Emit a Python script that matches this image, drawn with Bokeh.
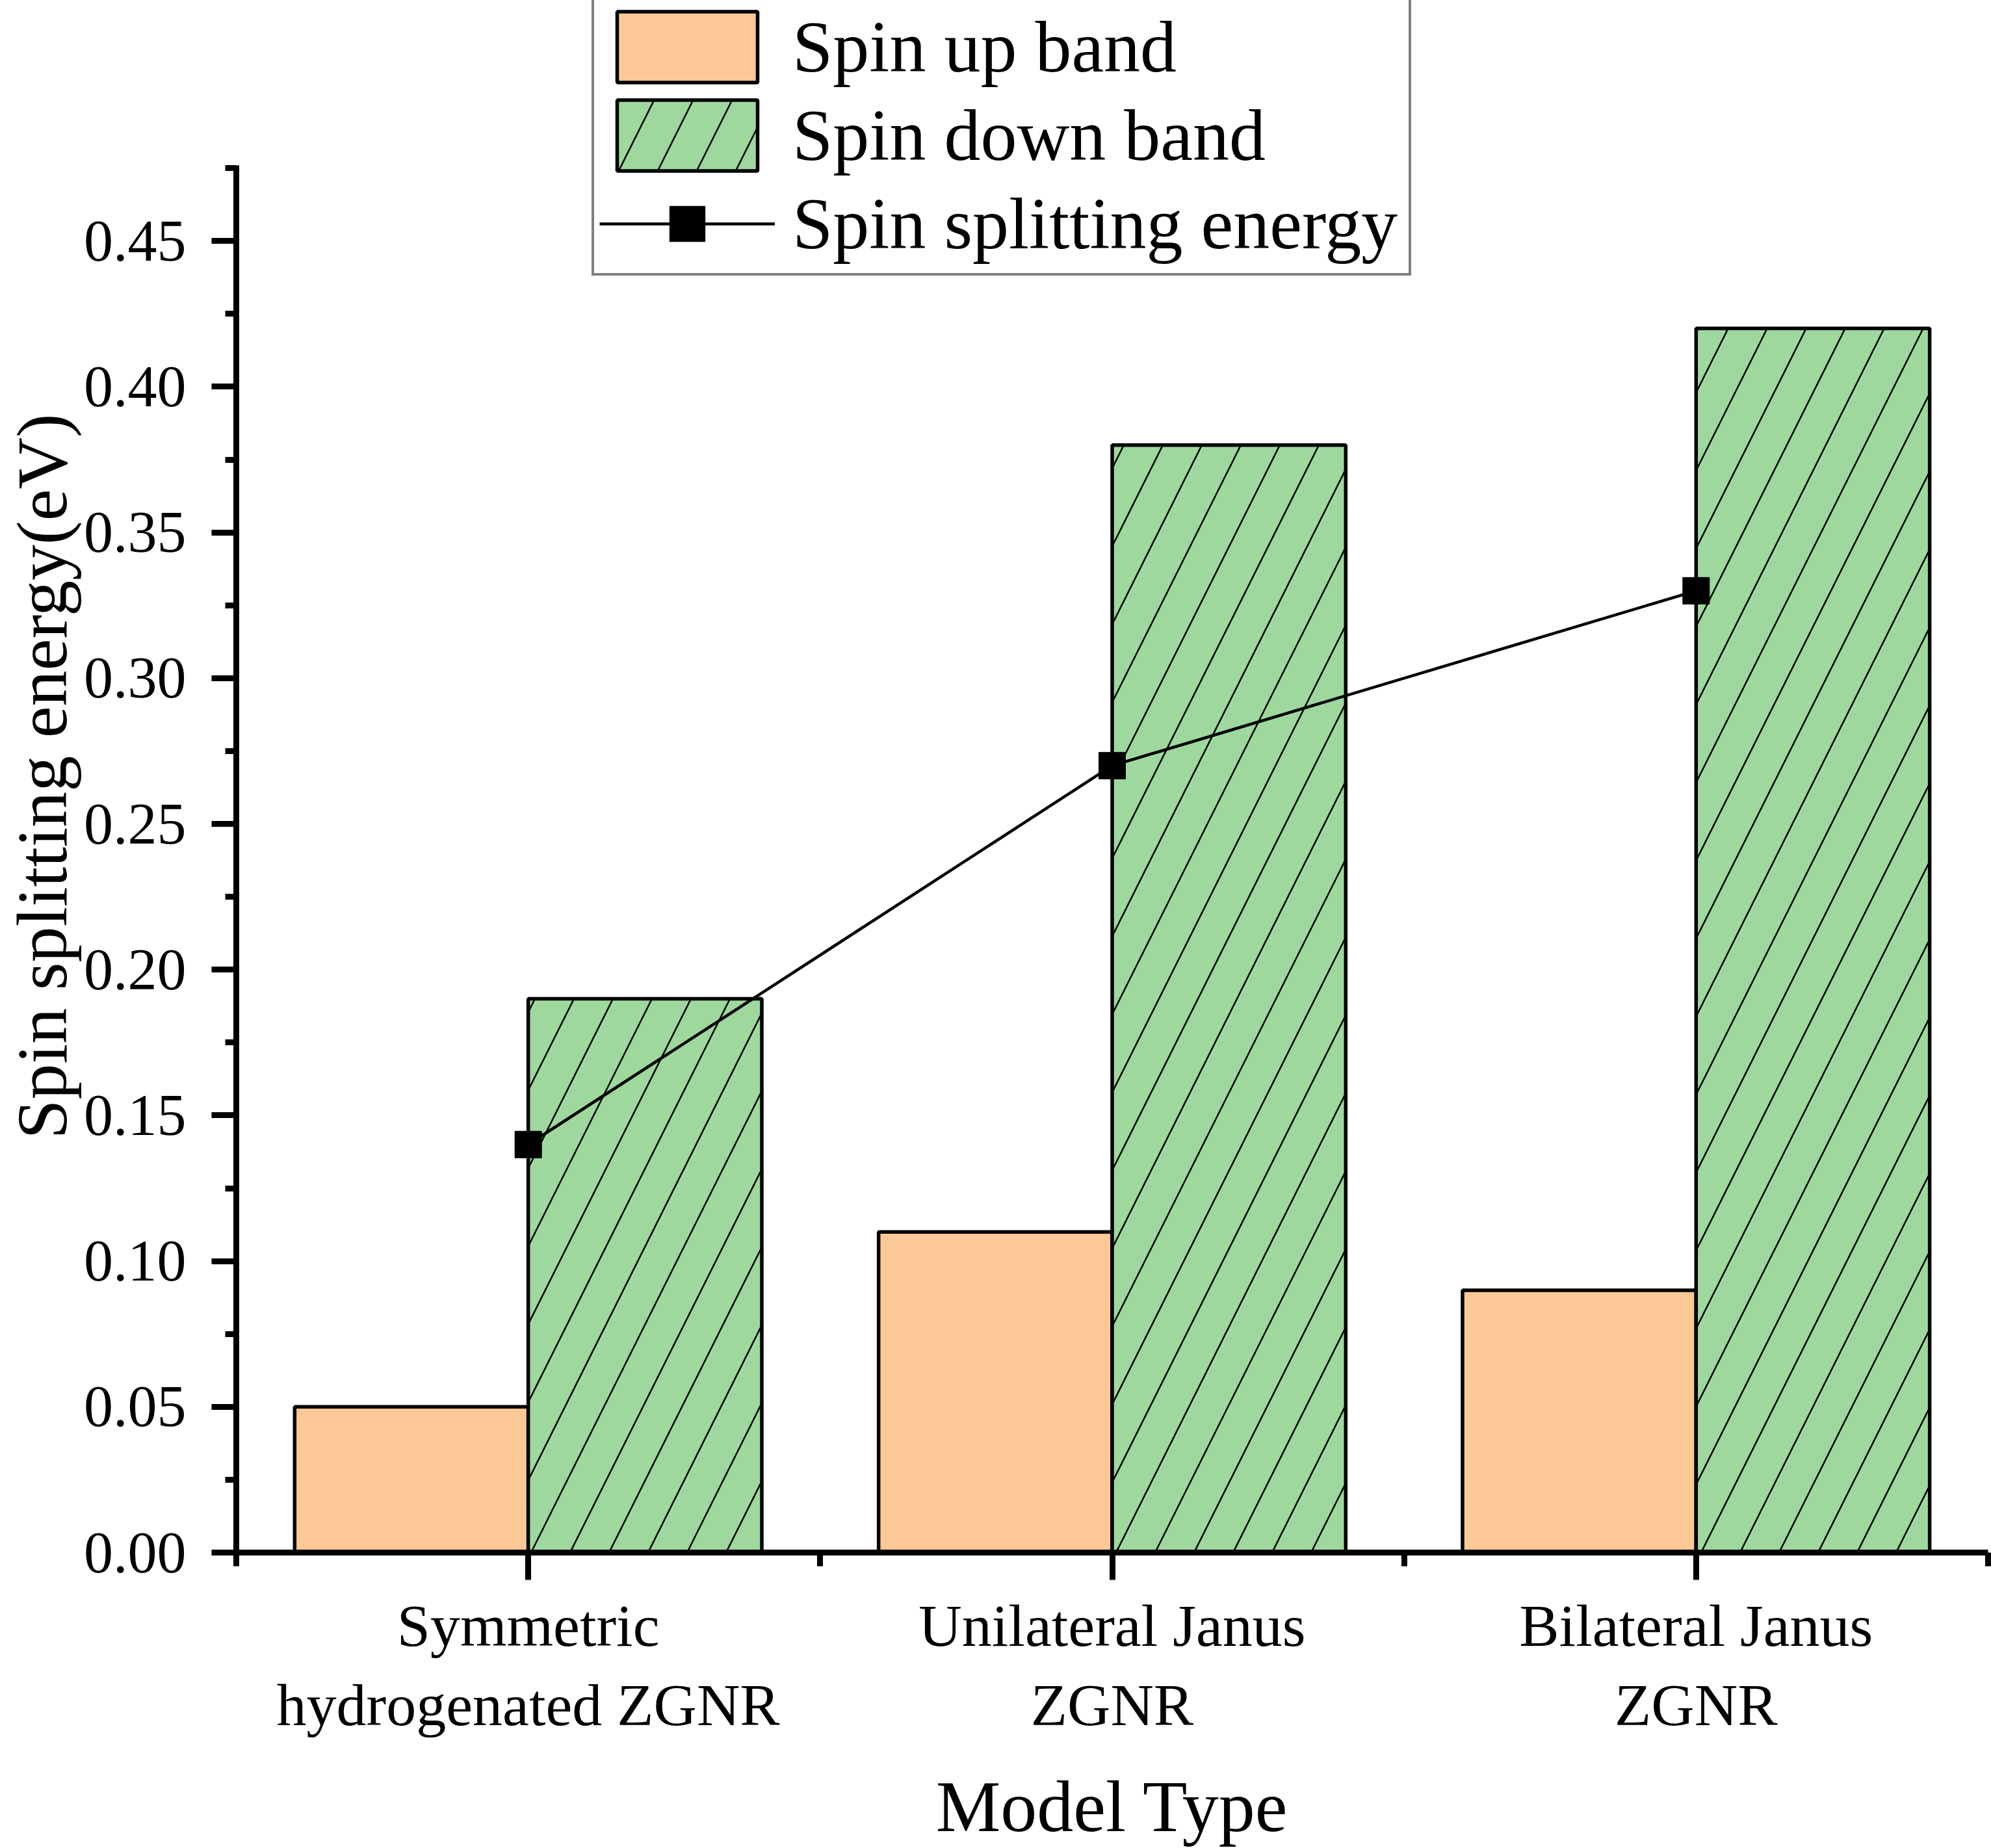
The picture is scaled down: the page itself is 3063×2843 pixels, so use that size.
from bokeh.plotting import figure
from bokeh.models import (ColumnDataSource, FixedTicker, Range1d, Legend, LegendItem,
                          NumeralTickFormatter)
from bokeh.transform import dodge
from bokeh.embed import file_html
from bokeh.resources import INLINE

# ---------------- data ----------------
categories = ["Symmetric\nhydrogenated ZGNR", "Unilateral Janus\nZGNR", "Bilateral Janus\nZGNR"]
spin_up = [0.05, 0.11, 0.09]
spin_down = [0.19, 0.38, 0.42]
splitting = [0.14, 0.27, 0.33]
y_ticks = [0.00, 0.05, 0.10, 0.15, 0.20, 0.25, 0.30, 0.35, 0.40, 0.45]
y_minor = [0.025, 0.075, 0.125, 0.175, 0.225, 0.275, 0.325, 0.375, 0.425, 0.475]
y_axis_max = 0.476

FONT = "Liberation Serif"
PEACH = "#FBC896"
GREEN = "#9ED89D"
W, H = 3063, 2843
L, R, B = 360, 5, 452
AXIS_TOP_PX = 254            # where the drawn y axis ends (px from top)
FH = H - B                   # frame spans from canvas top to the x axis
y_end = y_axis_max * FH / (FH - AXIS_TOP_PX)

xs = list(range(1, len(categories) + 1))
x_minor = [v - 0.5 for v in xs] + [xs[-1] + 0.5]
src = ColumnDataSource(dict(x=xs, up=spin_up, down=spin_down, split=splitting))

p = figure(width=W, height=H, output_backend="svg", toolbar_location=None,
           x_range=Range1d(0.5, len(categories) + 0.5), y_range=Range1d(0, y_end),
           min_border_left=L, min_border_right=R, min_border_top=0, min_border_bottom=B)
p.outline_line_color = None
p.grid.visible = False
p.background_fill_color = "white"
p.border_fill_color = "white"

r_up = p.vbar(x=dodge("x", -0.2), top="up", width=0.4, bottom=0, source=src,
              fill_color=PEACH, line_color="black", line_width=5.5)
r_down = p.vbar(x=dodge("x", 0.2), top="down", width=0.4, bottom=0, source=src,
                fill_color=GREEN, line_color="black", line_width=5.5,
                hatch_pattern="/", hatch_color="black",
                hatch_scale=120, hatch_weight=2.5)
r_line = p.line("x", "split", source=src, line_color="black", line_width=4.5)
r_pts = p.scatter("x", "split", source=src, marker="square", size=41,
                  fill_color="black", line_color="black")

xa = p.xaxis[0]
xa.ticker = FixedTicker(ticks=xs, minor_ticks=x_minor)
xa.major_label_overrides = {x: c for x, c in zip(xs, categories)}
ya = p.yaxis[0]
ya.ticker = FixedTicker(ticks=y_ticks, minor_ticks=y_minor)
ya.formatter = NumeralTickFormatter(format="0.00")
ya.bounds = (0, y_axis_max)

for ax in (xa, ya):
    ax.axis_line_width = 9
    ax.axis_line_color = "black"
    ax.major_tick_line_width = 9
    ax.minor_tick_line_width = 9
    ax.major_tick_line_color = "black"
    ax.minor_tick_line_color = "black"
    ax.major_tick_in = 0
    ax.minor_tick_in = 0
    ax.major_label_text_font = FONT
    ax.major_label_text_color = "black"
    ax.axis_label_text_font = FONT
    ax.axis_label_text_font_style = "normal"
    ax.axis_label_text_color = "black"

xa.major_tick_out = 42
xa.minor_tick_out = 21
xa.major_label_text_font_size = "92px"
xa.major_label_standoff = 19
xa.axis_label = "Model Type"
xa.axis_label_text_font_size = "112px"
xa.axis_label_standoff = 40

ya.major_tick_out = 38
ya.minor_tick_out = 17
ya.major_label_text_font_size = "90px"
ya.major_label_standoff = 39
ya.axis_label = "Spin splitting energy(eV)"
ya.axis_label_text_font_size = "110px"
ya.axis_label_standoff = 0

legend = Legend(items=[
    LegendItem(label="Spin up band", renderers=[r_up]),
    LegendItem(label="Spin down band", renderers=[r_down]),
    LegendItem(label="Spin splitting energy", renderers=[r_line, r_pts]),
], location=(907 - L, FH - 427))
legend.label_text_font = FONT
legend.label_text_font_size = "112px"
legend.label_text_color = "black"
legend.glyph_width = 270
legend.glyph_height = 136
legend.spacing = 0
legend.padding = 8
legend.margin = 0
legend.label_standoff = 27
legend.label_height = 100
legend.label_width = 940
legend.border_line_color = "black"
legend.border_line_width = 4
legend.background_fill_color = "white"
legend.background_fill_alpha = 1
p.add_layout(legend)

open("out.html", "w").write(file_html(p, INLINE))
